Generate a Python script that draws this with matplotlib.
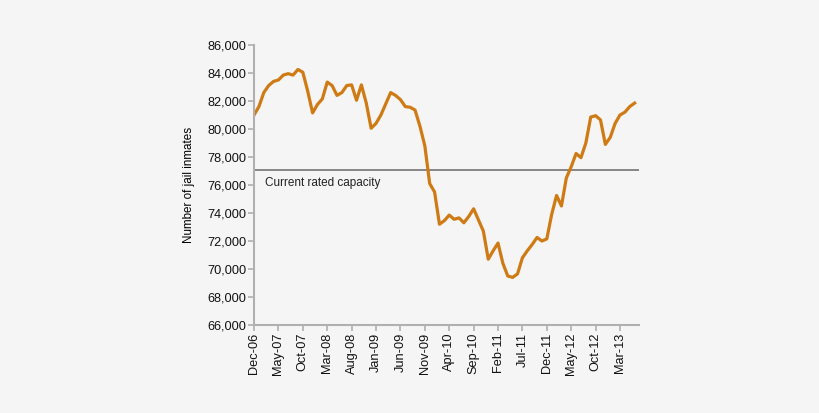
import matplotlib.pyplot as plt

# monthly jail population, Dec-06 .. Jun-13
months = list(range(79))
inmates = [
    81000, 81600, 82600, 83100, 83400, 83500, 83850, 83950, 83850, 84250,
    84050, 82700, 81150, 81750, 82150, 83350, 83100, 82400, 82600, 83100,
    83150, 82050, 83150, 81850, 80050, 80400, 81000, 81800, 82600, 82400,
    82100, 81600, 81550, 81350, 80200, 78800, 76100, 75500, 73200, 73450,
    73850, 73550, 73650, 73300, 73750, 74300, 73500, 72700, 70700, 71300,
    71850, 70400, 69500, 69400, 69650, 70800, 71300, 71750, 72250, 72000,
    72150, 73900, 75250, 74500, 76500, 77300, 78250, 77950, 79000, 80850,
    80950, 80650, 78900, 79400, 80400, 81000, 81200, 81600, 81850,
]
capacity = 77100

tick_labels = ["Dec-06", "May-07", "Oct-07", "Mar-08", "Aug-08", "Jan-09",
               "Jun-09", "Nov-09", "Apr-10", "Sep-10", "Feb-11", "Jul-11",
               "Dec-11", "May-12", "Oct-12", "Mar-13"]
tick_pos = [i * 5 for i in range(len(tick_labels))]

plt.rcParams['font.family'] = ['Liberation Sans', 'DejaVu Sans']

bg = '#f5f5f5'
fig = plt.figure(figsize=(8.2, 4.13), dpi=100, facecolor=bg)
ax = fig.add_axes([0.3098, 0.2131, 0.4695, 0.678], facecolor=bg)

ax.axhline(capacity, color='#858585', linewidth=1.4, zorder=1)
ax.text(2.2, capacity - 500, 'Current rated capacity', fontsize=8.5,
        va='top', ha='left', color='#222222')

ax.plot(months, inmates, color='#cf7b15', linewidth=2.3, zorder=2)

ax.set_xlim(0, 78.9)
ax.set_ylim(66000, 86000)
ax.set_yticks(range(66000, 86001, 2000))
ax.set_yticklabels([f"{v:,}" for v in range(66000, 86001, 2000)], fontsize=9.2)
ax.set_xticks(tick_pos)
ax.set_xticklabels(tick_labels, rotation=90, fontsize=9.2)

for s in ['top', 'right']:
    ax.spines[s].set_visible(False)
for s in ['left', 'bottom']:
    ax.spines[s].set_color('#b0b0b0')
    ax.spines[s].set_linewidth(1.5)
ax.tick_params(axis='both', color='#b0b0b0', width=1.2, length=4,
               labelcolor='#111111', pad=1.5)

ax.set_ylabel('Number of jail inmates', fontsize=8.4, labelpad=9)

plt.savefig('out.png', dpi=100, facecolor=bg)
